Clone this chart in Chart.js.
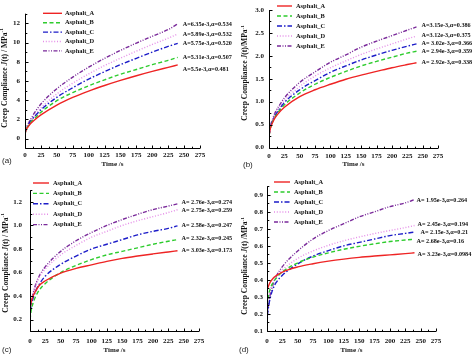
<!DOCTYPE html>
<html><head><meta charset="utf-8">
<script src="https://cdn.jsdelivr.net/npm/chart.js@4/dist/chart.umd.min.js"></script>
<style>
html,body{margin:0;padding:0;background:#fff;}
#wrap{position:relative;width:474px;height:357px;overflow:hidden;background:#fff}
canvas{position:absolute}
</style></head><body>
<div id="wrap">
<canvas id="ca" width="237" height="178" style="left:0;top:0"></canvas>
<canvas id="cb" width="237" height="178" style="left:237px;top:0"></canvas>
<canvas id="cc" width="237" height="179" style="left:0;top:178px"></canvas>
<canvas id="cd" width="237" height="179" style="left:237px;top:178px"></canvas>
</div>
<script>
// ---------- data ----------
const timeS = [0,1,2,5,10,15,25,50,75,100,125,150,175,200,225,240];
const seriesNames = ['Asphalt_A','Asphalt_B','Asphalt_C','Asphalt_D','Asphalt_E'];
const xTickValues = [0,25,50,75,100,125,150,175,200,225,250,275];

// panel (a)
const a_A = [0.40,0.75,0.95,1.25,1.65,1.95,2.47,3.50,4.29,4.95,5.53,6.06,6.55,7.00,7.42,7.67];
const a_B = [0.45,0.80,1.00,1.30,1.80,2.10,2.75,3.95,4.80,5.50,6.12,6.70,7.20,7.70,8.15,8.46];
const a_C = [0.50,0.85,1.05,1.40,1.95,2.30,3.00,4.30,5.30,6.20,6.97,7.70,8.36,9.00,9.60,9.92];
const a_D = [0.50,0.90,1.10,1.45,1.95,2.40,3.20,4.65,5.77,6.73,7.60,8.37,9.10,9.80,10.45,10.89];
const a_E = [0.50,0.90,1.15,1.55,2.15,2.70,3.60,5.20,6.40,7.44,8.35,9.18,9.94,10.65,11.35,11.93];
const a_yTicks = [0,2,4,6,8,10,12];
const a_yLabels = ['0','2','4','6','8','10','12'];
const a_notes = ['A=5.5e-3,\u03b1=0.481','A=5.31e-3,\u03b1=0.507','A=5.75e-3,\u03b1=0.520','A=5.89e-3,\u03b1=0.532','A=6.35e-3,\u03b1=0.534'];

// panel (b)
const b_A = [0.25,0.33,0.40,0.52,0.65,0.74,0.88,1.11,1.26,1.38,1.49,1.58,1.66,1.74,1.81,1.85];
const b_B = [0.25,0.33,0.41,0.53,0.67,0.77,0.93,1.19,1.38,1.53,1.66,1.78,1.88,1.97,2.06,2.10];
const b_C = [0.26,0.34,0.42,0.55,0.70,0.80,0.98,1.26,1.46,1.64,1.78,1.91,2.02,2.12,2.21,2.26];
const b_D = [0.26,0.35,0.43,0.57,0.73,0.84,1.02,1.33,1.56,1.74,1.89,2.03,2.15,2.26,2.37,2.43];
const b_E = [0.27,0.36,0.45,0.59,0.76,0.88,1.08,1.42,1.65,1.86,2.02,2.19,2.32,2.44,2.56,2.63];
const b_yTicks = [0,0.5,1,1.5,2,2.5,3];
const b_yLabels = ['0.0','0.5','1.0','1.5','2.0','2.5','3.0'];
const b_notes = ['A= 2.92e-3,\u03b1=0.338','A= 2.94e-3,\u03b1=0.359','A= 3.02e-3,\u03b1=0.366','A=3.12e-3,\u03b1=0.375','A=3.15e-3,\u03b1=0.386'];

// panel (c)
const c_A = [0.30,0.32,0.35,0.40,0.45,0.49,0.53,0.595,0.635,0.665,0.695,0.72,0.74,0.758,0.775,0.785];
const c_B = [0.20,0.24,0.28,0.34,0.405,0.45,0.507,0.60,0.66,0.71,0.75,0.78,0.81,0.84,0.866,0.88];
const c_C = [0.27,0.29,0.32,0.38,0.45,0.50,0.57,0.67,0.74,0.80,0.84,0.88,0.92,0.95,0.975,0.997];
const c_D = [0.28,0.30,0.34,0.41,0.50,0.56,0.63,0.75,0.83,0.90,0.95,1.00,1.04,1.075,1.11,1.134];
const c_E = [0.30,0.32,0.35,0.42,0.51,0.57,0.65,0.78,0.87,0.94,1.00,1.05,1.095,1.135,1.165,1.184];
const c_yTicks = [0.2,0.4,0.6,0.8,1.0,1.2];
const c_yLabels = ['0.2','0.4','0.6','0.8','1.0','1.2'];
const c_notes = ['A= 3.03e-3,\u03b1=0.173','A= 2.32e-3,\u03b1=0.245','A= 2.58e-3,\u03b1=0.247','A= 2.75e-3,\u03b1=0.259','A= 2.76e-3,\u03b1=0.274'];

// panel (d)
const d_A = [0.33,0.35,0.36,0.385,0.41,0.425,0.446,0.476,0.495,0.51,0.522,0.532,0.54,0.547,0.554,0.559];
const d_B = [0.25,0.27,0.30,0.346,0.385,0.41,0.447,0.50,0.534,0.559,0.58,0.597,0.612,0.625,0.634,0.639];
const d_C = [0.13,0.20,0.23,0.29,0.35,0.385,0.427,0.494,0.54,0.572,0.60,0.62,0.64,0.66,0.673,0.681];
const d_D = [0.22,0.25,0.28,0.336,0.385,0.42,0.459,0.526,0.57,0.603,0.63,0.652,0.672,0.69,0.707,0.719];
const d_E = [0.18,0.21,0.24,0.31,0.375,0.42,0.478,0.57,0.64,0.69,0.73,0.77,0.80,0.83,0.852,0.871];
const d_yTicks = [0.1,0.2,0.3,0.4,0.5,0.6,0.7,0.8,0.9];
const d_yLabels = ['0.1','0.2','0.3','0.4','0.5','0.6','0.7','0.8','0.9'];
const d_notes = ['A= 3.23e-3,\u03b1=0.0984','A= 2.68e-3,\u03b1=0.16','A= 2.15e-3,\u03b1=0.21','A= 2.45e-3,\u03b1=0.194','A= 1.95e-3,\u03b1=0.264'];

// ---------- styles ----------
const STY = [
  {color:'#ee2424', dash:[]},
  {color:'#2ecc2e', dash:[4,2.5]},
  {color:'#1c1cc8', dash:[5,2,1.5,2]},
  {color:'#e58ee8', dash:[1,1.8]},
  {color:'#7a2a9a', dash:[4,1.5,1,1.5,1,1.5]}
];
const SERIF = '"Liberation Serif","Times New Roman",serif';

const PANELS = [
  {id:'ca', tag:'(a)', tagPos:[2,161], left:0, top:0, w:237, h:178,
   area:{l:25,r:200,t:13.7,b:148.3}, ymin:-1, ymax:13, yTicks:a_yTicks, yLabels:a_yLabels, yMinor:1,
   data:[a_A,a_B,a_C,a_D,a_E], notes:a_notes, noteDx:[5,5,5,5,5], noteDy:[4,0,0,0,0],
   legend:{x0:43,x1:62,tx:65,y0:13.3,dy:9.4}, ytitle:{x:5,y:78,mid:'(t) / MPa'}, xtitleY:164.3, xPad:3, yPad:5},
  {id:'cb', tag:'(b)', tagPos:[243,165], left:237, top:0, w:237, h:178,
   area:{l:269,r:438,t:10,b:147.5}, ymin:0, ymax:3, yTicks:b_yTicks, yLabels:b_yLabels, yMinor:0.25,
   data:[b_A,b_B,b_C,b_D,b_E], notes:b_notes, noteDx:[5,5,5,5,5], noteDy:[0,0,-1,-1,-1.5],
   legend:{x0:277,x1:292,tx:296,y0:6,dy:10}, ytitle:{x:245.3,y:73,mid:'(t)/MPa'}, xtitleY:164.3, xPad:4, yPad:5},
  {id:'cc', tag:'(c)', tagPos:[2,350], left:0, top:178, w:237, h:179,
   area:{l:30,r:199,t:186.8,b:331.3}, ymin:0.1, ymax:1.3, yTicks:c_yTicks, yLabels:c_yLabels, yMinor:0.1,
   data:[c_A,c_B,c_C,c_D,c_E], notes:c_notes, noteDx:[4,4,4,4,4], noteDy:[0,-1,0,0.5,-1.5],
   legend:{x0:33,x1:49,tx:53,y0:183,dy:10.4}, ytitle:{x:6,y:263,mid:'(t) / MPa'}, xtitleY:350.3, xPad:6, yPad:8},
  {id:'cd', tag:'(d)', tagPos:[239,350], left:237, top:178, w:237, h:179,
   area:{l:267,r:436,t:182.3,b:331}, ymin:0.1, ymax:0.95, yTicks:d_yTicks, yLabels:d_yLabels, yMinor:0.05,
   data:[d_A,d_B,d_C,d_D,d_E], notes:d_notes, noteDx:[3,2,6,3,2], noteDy:[2,2.6,0,-1,1],
   legend:{x0:274,x1:290,tx:294,y0:182,dy:10}, ytitle:{x:245.3,y:266,mid:'(t) /MPa'}, xtitleY:350.3, xPad:6, yPad:4}
];

function makeDeco(P){
  return {
    id:'deco_'+P.id,
    afterDraw(chart){
      const ctx = chart.ctx, ca = chart.chartArea, xs = chart.scales.x, ys = chart.scales.y;
      const ox = P.left, oy = P.top;
      ctx.save();
      // axes lines
      ctx.strokeStyle = '#000'; ctx.lineWidth = 1; ctx.setLineDash([]);
      const axX = Math.round(ca.left) + 0.5, axY = Math.round(ca.bottom) + 0.5;
      ctx.beginPath();
      ctx.moveTo(axX, ca.top); ctx.lineTo(axX, axY); ctx.lineTo(ca.right, axY);
      ctx.stroke();
      // inward ticks
      ctx.beginPath();
      for (let k = 0; k * 12.5 <= 275 + 1e-9; k++) {
        const v = k * 12.5;
        const x = Math.round(xs.getPixelForValue(v)) + 0.5;
        const L = (k % 2 === 0) ? 3 : 1.8;
        ctx.moveTo(x, axY); ctx.lineTo(x, axY - L);
      }
      const st = P.yMinor;
      for (let k = Math.ceil(P.ymin / st - 1e-9); k * st <= P.ymax + 1e-9; k++) {
        const v = k * st;
        const major = P.yTicks.some(t => Math.abs(t - v) < 1e-6);
        const y = Math.round(ys.getPixelForValue(v)) + 0.5;
        const L = major ? 3 : 1.8;
        ctx.moveTo(axX, y); ctx.lineTo(axX + L, y);
      }
      ctx.stroke();
      // legend
      const lg = P.legend;
      chart.data.datasets.forEach((ds, i) => {
        const y = lg.y0 + i * lg.dy - oy;
        ctx.strokeStyle = ds.borderColor; ctx.lineWidth = 1.4;
        ctx.setLineDash(ds.borderDash || []);
        ctx.beginPath(); ctx.moveTo(lg.x0 - ox, y); ctx.lineTo(lg.x1 - ox, y); ctx.stroke();
        ctx.setLineDash([]);
        ctx.fillStyle = '#111'; ctx.font = 'bold 6.4px ' + SERIF;
        ctx.textAlign = 'left'; ctx.textBaseline = 'middle';
        ctx.fillText(ds.label, lg.tx - ox, y);
      });
      // end annotations
      ctx.font = 'bold 6.2px ' + SERIF; ctx.fillStyle = '#111';
      ctx.textAlign = 'left'; ctx.textBaseline = 'middle';
      chart.data.datasets.forEach((ds, i) => {
        const meta = chart.getDatasetMeta(i);
        const last = meta.data[meta.data.length - 1];
        ctx.fillText(P.notes[i], last.x + P.noteDx[i], last.y + P.noteDy[i]);
      });
      // y title
      ctx.save();
      ctx.translate(P.ytitle.x - ox, P.ytitle.y - oy);
      ctx.rotate(-Math.PI / 2);
      const parts = [
        ['Creep Compliance ', 'bold 7.6px ' + SERIF, 0],
        ['J', 'italic bold 7.6px ' + SERIF, 0],
        [P.ytitle.mid, 'bold 7.6px ' + SERIF, 0],
        ['-1', 'bold 5px ' + SERIF, -2.8]
      ];
      let tw = 0;
      parts.forEach(p => { ctx.font = p[1]; tw += ctx.measureText(p[0]).width; });
      let cx = -tw / 2;
      ctx.textBaseline = 'middle'; ctx.fillStyle = '#111';
      parts.forEach(p => { ctx.font = p[1]; ctx.fillText(p[0], cx, p[2]); cx += ctx.measureText(p[0]).width; });
      ctx.restore();
      // x title
      ctx.font = 'bold 7px ' + SERIF; ctx.fillStyle = '#111';
      ctx.textAlign = 'center'; ctx.textBaseline = 'middle';
      ctx.fillText('Time /s', (ca.left + ca.right) / 2, P.xtitleY - oy);
      // panel tag
      ctx.font = '8px "Liberation Sans",Arial,sans-serif'; ctx.fillStyle = '#222';
      ctx.textAlign = 'left';
      ctx.fillText(P.tag, P.tagPos[0] - ox, P.tagPos[1] - oy);
      ctx.restore();
    }
  };
}

PANELS.forEach(P => {
  const datasets = P.data.map((arr, i) => ({
    label: seriesNames[i],
    data: timeS.map((t, j) => ({x: t, y: arr[j]})),
    borderColor: STY[i].color,
    borderDash: STY[i].dash,
    borderWidth: 1.4,
    pointRadius: 0,
    fill: false,
    cubicInterpolationMode: 'monotone'
  }));
  const tickFont = {family: SERIF, size: 7, weight: 'bold'};
  new Chart(document.getElementById(P.id), {
    type: 'line',
    data: {datasets},
    options: {
      responsive: false, animation: false, devicePixelRatio: 1,
      layout: {padding: {left: 0, bottom: 0, top: P.area.t - P.top, right: P.left + P.w - P.area.r}},
      plugins: {legend: {display: false}, tooltip: {enabled: false}},
      scales: {
        x: {
          type: 'linear', min: 0, max: 275,
          afterBuildTicks: s => { s.ticks = xTickValues.map(v => ({value: v})); },
          afterFit: s => { s.height = P.top + P.h - P.area.b; },
          grid: {display: false, drawTicks: false}, border: {display: false},
          ticks: {font: tickFont, color: '#111', padding: P.xPad, maxRotation: 0, autoSkip: false,
                  callback: v => String(v)}
        },
        y: {
          type: 'linear', min: P.ymin, max: P.ymax,
          afterBuildTicks: s => { s.ticks = P.yTicks.map(v => ({value: v})); },
          afterFit: s => { s.width = P.area.l - P.left; },
          grid: {display: false, drawTicks: false}, border: {display: false},
          ticks: {font: tickFont, color: '#111', padding: P.yPad, autoSkip: false,
                  callback: (v, i) => P.yLabels[i]}
        }
      }
    },
    plugins: [makeDeco(P)]
  });
});
</script>
</body></html>
